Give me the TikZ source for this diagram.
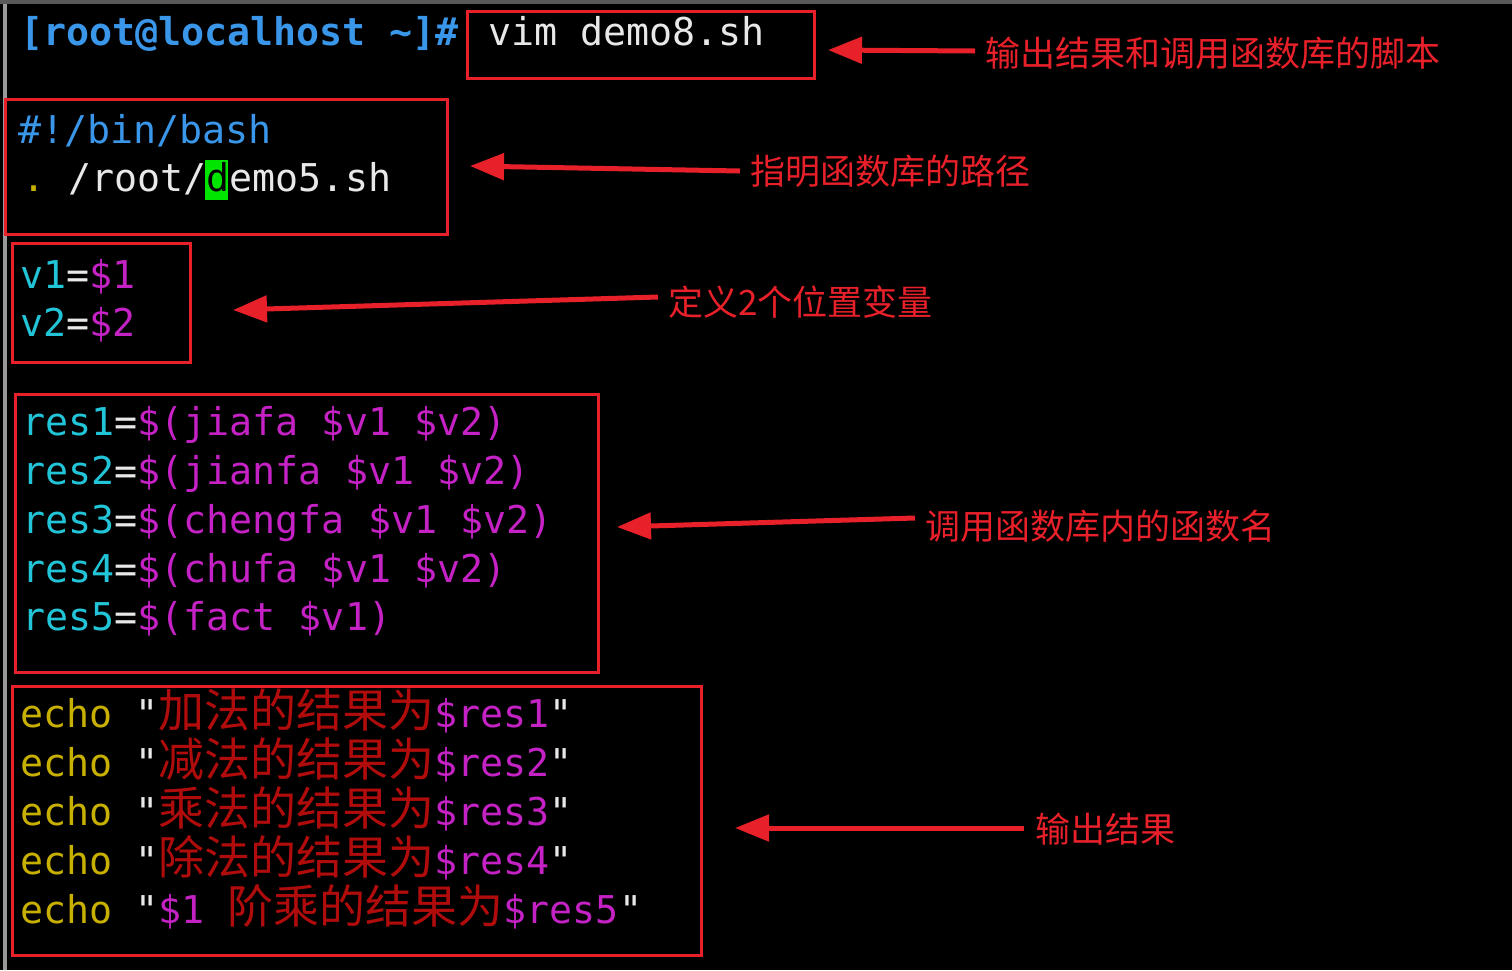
\documentclass[tikz,border=0pt]{standalone}
\usepackage{fontspec}
\setmonofont{DejaVu Sans Mono}
\newfontfamily\cjk{Noto Sans CJK SC}
\usetikzlibrary{arrows.meta}
\definecolor{cy}{HTML}{22C4D8}
\definecolor{mg}{HTML}{C422C4}
\definecolor{bl}{HTML}{3A96E8}
\definecolor{yl}{HTML}{C8B000}
\definecolor{dr}{HTML}{B00C0C}
\definecolor{rb}{HTML}{E8202A}
\definecolor{wt}{HTML}{E8E8E8}
\tikzset{
 code/.style={anchor=base west,inner sep=0pt,font=\ttfamily\fontsize{38.3}{44}\selectfont,text=wt},
 lab/.style={anchor=base west,inner sep=0pt,font=\cjk\fontsize{35}{40}\selectfont,text=rb},
 rbox/.style={draw=rb,line width=3pt},
 arr/.style={draw=rb,line width=5pt,-{Triangle[length=34pt,width=26pt]}}
}
\newcommand{\zh}[1]{{\cjk\fontsize{46}{46}\selectfont #1}}
\begin{document}
\begin{tikzpicture}[x=1pt,y=-1pt]
\fill[black] (0,0) rectangle (1512,970);
\useasboundingbox (0,0) rectangle (1512,970);
\fill[gray!70!black] (0,0) rectangle (1512,4);
\fill[gray!80] (3,4) rectangle (7,970);
% terminal text
\node[code,text=bl,font=\ttfamily\bfseries\fontsize{38.3}{44}\selectfont] (p) at (20,45) {[root@localhost \char`~]\#};
\node[code] (cmd) at (488,45) {vim demo8.sh};
\node[code,text=bl] (sh) at (18,143) {\#!/bin/bash};
\fill[green!90!black] (205,160) rectangle (228,200);
\node[code] (src) at (22,191) {{\color{yl}.} /root/{\color{black}d}emo5.sh};
\node[code] (v1) at (20,288) {{\color{cy}v1}={\color{mg}\$1}};
\node[code] (v2) at (20,336) {{\color{cy}v2}={\color{mg}\$2}};
\node[code] (r1) at (22,435) {{\color{cy}res1}={\color{mg}\$(jiafa \$v1 \$v2)}};
\node[code] (r2) at (22,484) {{\color{cy}res2}={\color{mg}\$(jianfa \$v1 \$v2)}};
\node[code] (r3) at (22,533) {{\color{cy}res3}={\color{mg}\$(chengfa \$v1 \$v2)}};
\node[code] (r4) at (22,582) {{\color{cy}res4}={\color{mg}\$(chufa \$v1 \$v2)}};
\node[code] (r5) at (22,630) {{\color{cy}res5}={\color{mg}\$(fact \$v1)}};
\node[code] (e1) at (20,727) {{\color{yl}echo} "{\color{dr}\zh{加法的结果为}}{\color{mg}\$res1}"};
\node[code] (e2) at (20,776) {{\color{yl}echo} "{\color{dr}\zh{减法的结果为}}{\color{mg}\$res2}"};
\node[code] (e3) at (20,825) {{\color{yl}echo} "{\color{dr}\zh{乘法的结果为}}{\color{mg}\$res3}"};
\node[code] (e4) at (20,874) {{\color{yl}echo} "{\color{dr}\zh{除法的结果为}}{\color{mg}\$res4}"};
\node[code] (e5) at (20,923) {{\color{yl}echo} "{\color{mg}\$1} {\color{dr}\zh{阶乘的结果为}}{\color{mg}\$res5}"};
% boxes
\draw[rbox] (467,11) rectangle (814,78);
\draw[rbox] (5,99) rectangle (447,234);
\draw[rbox] (12,243) rectangle (190,362);
\draw[rbox] (15,394) rectangle (598,672);
\draw[rbox] (12,686) rectangle (701,955);
% labels and arrows
\node[lab] (l1) at (985,66) {输出结果和调用函数库的脚本};
\node[lab] (l2) at (750,184) {指明函数库的路径};
\node[lab] (l3) at (668,315) {定义2个位置变量};
\node[lab] (l4) at (925,539) {调用函数库内的函数名};
\node[lab] (l5) at (1035,842) {输出结果};
\coordinate (a1) at (828,50);
\coordinate (a2) at (470,166);
\coordinate (a3) at (233,310);
\coordinate (a4) at (617,527);
\coordinate (a5) at (735,828);
\draw[arr] (975,51) -- (a1);
\draw[arr] (740,171) -- (a2);
\draw[arr] (658,297) -- (a3);
\draw[arr] (915,518) -- (a4);
\draw[arr] (1024,828) -- (a5);
\end{tikzpicture}
\end{document}
